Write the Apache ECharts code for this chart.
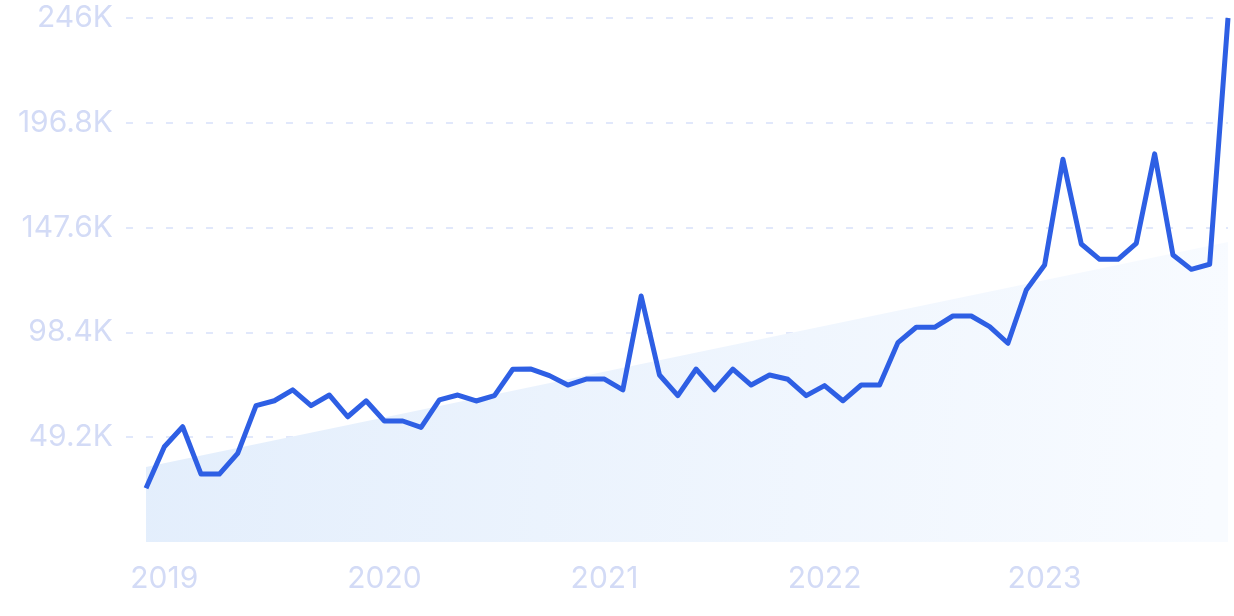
<!DOCTYPE html>
<html>
<head>
<meta charset="utf-8">
<script src="https://cdn.jsdelivr.net/npm/echarts@6/dist/echarts.min.js"></script>
<style>
  html, body { margin: 0; padding: 0; background: #ffffff; }
  #chart { width: 1234px; height: 616px; }
</style>
</head>
<body>
<div id="chart"></div>
<script>
// Monthly categories, Dec 2018 .. Nov 2023
const months = [
  '2018-12',
  '2019-01', '2019-02', '2019-03', '2019-04', '2019-05', '2019-06',
  '2019-07', '2019-08', '2019-09', '2019-10', '2019-11', '2019-12',
  '2020-01', '2020-02', '2020-03', '2020-04', '2020-05', '2020-06',
  '2020-07', '2020-08', '2020-09', '2020-10', '2020-11', '2020-12',
  '2021-01', '2021-02', '2021-03', '2021-04', '2021-05', '2021-06',
  '2021-07', '2021-08', '2021-09', '2021-10', '2021-11', '2021-12',
  '2022-01', '2022-02', '2022-03', '2022-04', '2022-05', '2022-06',
  '2022-07', '2022-08', '2022-09', '2022-10', '2022-11', '2022-12',
  '2023-01', '2023-02', '2023-03', '2023-04', '2023-05', '2023-06',
  '2023-07', '2023-08', '2023-09', '2023-10', '2023-11'
];

// search volume, in thousands
const volume = [
  25.2,
  44.7, 54.1, 31.9, 31.9, 41.6, 64.0, 66.3, 71.4, 64.0, 69.0, 58.8, 66.3,
  56.8, 56.8, 53.8, 66.7, 69.0, 66.2, 68.7, 81.1, 81.2, 78.1, 73.7, 76.5,
  76.5, 71.4, 115.5, 78.4, 68.7, 81.2, 71.4, 81.2, 73.7, 78.4, 76.4, 68.7,
  73.4, 66.3, 73.7, 73.7, 93.6, 100.8, 100.8, 106.1, 106.1, 101.1, 93.3, 118.3,
  130.0, 179.7, 139.9, 132.7, 132.7, 140.2, 182.2, 134.7, 128.0, 130.4, 246.0
];

// trend line end points (first and last month)
const trend = [35.2, 140.8];

const yTickLabels = ['49.2K', '98.4K', '147.6K', '196.8K', '246K'];

const labelColor = '#d3dbf6';
const fontFamily = 'Inter, "Noto Sans", sans-serif';

const chart = echarts.init(document.getElementById('chart'));

chart.setOption({
  backgroundColor: '#ffffff',
  animation: false,
  grid: [
    // grid used only for the y labels and dashed lines (reaches a bit further left)
    { left: 126, right: 6, top: 18, bottom: 179 },
    { left: 146, right: 6, top: 18, bottom: 74 }
  ],
  xAxis: [
    { gridIndex: 0, type: 'category', data: months, show: false, boundaryGap: false },
    {
      gridIndex: 1,
      type: 'category',
      data: months,
      boundaryGap: false,
      axisLine: { show: false },
      axisTick: { show: false },
      splitLine: { show: false },
      axisLabel: {
        color: labelColor,
        fontSize: 30,
        fontFamily: fontFamily,
        margin: 22,
        interval: (i) => (i - 1) % 12 === 0,
        formatter: (v) => v.slice(0, 4)
      }
    }
  ],
  yAxis: [
    {
      gridIndex: 0,
      type: 'value',
      min: 49.2,
      max: 246,
      interval: 49.2,
      axisLine: { show: false },
      axisTick: { show: false },
      axisLabel: {
        color: labelColor,
        fontSize: 30,
        fontFamily: fontFamily,
        margin: 13,
        formatter: (v, i) => yTickLabels[i]
      },
      splitLine: {
        lineStyle: { color: '#d7e1fa', width: 1.5, type: [7, 13] }
      }
    },
    { gridIndex: 1, type: 'value', min: 0, max: 246, show: false }
  ],
  series: [
    {
      name: 'trend',
      type: 'line',
      xAxisIndex: 1,
      yAxisIndex: 1,
      data: [[months[0], trend[0]], [months[months.length - 1], trend[1]]],
      symbol: 'none',
      lineStyle: { width: 0, opacity: 0 },
      areaStyle: {
        opacity: 1,
        color: new echarts.graphic.LinearGradient(0, 0, 1, 0.3, [
          { offset: 0, color: '#e3eefc' },
          { offset: 1, color: '#f8fbff' }
        ])
      },
      silent: true,
      z: 1
    },
    {
      name: 'volume',
      type: 'line',
      xAxisIndex: 1,
      yAxisIndex: 1,
      data: volume,
      symbol: 'none',
      clip: false,
      lineStyle: { color: '#2e5fe4', width: 5, join: 'round', cap: 'butt' },
      z: 3
    }
  ]
});
</script>
</body>
</html>
